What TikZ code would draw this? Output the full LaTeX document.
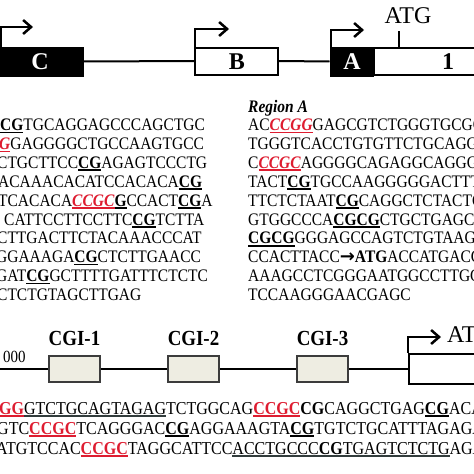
\documentclass[tikz,border=0pt]{standalone}
\usepackage{fontspec}
\setmainfont{Liberation Serif}
\newfontfamily\stretchserif{Liberation Serif}[FakeStretch=0.88]
\newfontfamily\arrowfont{DejaVu Sans}
\usetikzlibrary{arrows.meta}
\definecolor{seqred}{RGB}{222,28,48}
\definecolor{cgifill}{RGB}{238,237,226}
\definecolor{cgiedge}{RGB}{60,60,60}
\definecolor{ulgray}{RGB}{50,60,60}
\newsavebox\ulbox
\newcommand\ulx[2][black]{\sbox\ulbox{#2}\rlap{\color{#1}\rule[-2.6pt]{\wd\ulbox}{1.5pt}}\usebox\ulbox}
\newcommand\cgb{\ulx{\textbf{CG}}}
\newcommand\rd[1]{\ulx[seqred]{\textcolor{seqred}{\textbf{\textit{#1}}}}}
\newcommand\rdu[1]{\ulx[seqred]{\textcolor{seqred}{\textbf{#1}}}}
\newcommand\arr{{\arrowfont\bfseries\fontsize{18}{18}\selectfont →}}
\tikzset{
  x=1pt, y=-1pt,
  geneline/.style={line width=2pt},
  blackbox/.style={fill=black, draw=black, line width=1pt, inner sep=0pt},
  whitebox/.style={fill=white, draw=black, line width=2pt, inner sep=0pt},
  cgibox/.style={fill=cgifill, draw=cgiedge, line width=1.6pt, inner sep=0pt, minimum width=51pt, minimum height=26pt},
  prom/.style={line width=2.5pt, -{Straight Barb[length=8pt, width=14pt]}},
  glabel/.style={font=\fontsize{24}{26}\selectfont\bfseries, inner sep=0pt},
  cgilabel/.style={font=\stretchserif\fontsize{21.5}{24}\selectfont\bfseries, inner sep=0pt},
  seq/.style={anchor=base west, inner sep=0pt, font=\stretchserif\fontsize{17.6}{20}\selectfont},
  bseq/.style={anchor=base west, inner sep=0pt, font=\stretchserif\fontsize{18.2}{20}\selectfont},
}
\begin{document}
\begin{tikzpicture}
\path[use as bounding box] (0,0) rectangle (474,474);
\clip (0,0) rectangle (474,474);
\fill[white] (0,0) rectangle (474,474);
% ---------- gene structure ----------
\node[blackbox, minimum width=103pt, minimum height=29pt] (boxC) at (31.5,61.5) {};
\node[whitebox, minimum width=83pt, minimum height=27pt] (boxB) at (236.5,61) {};
\node[blackbox, minimum width=43pt, minimum height=29pt] (boxA) at (351.5,61.5) {};
\node[whitebox, minimum width=120pt, minimum height=27pt, anchor=west] (box1) at (373,61.5) {};
\draw[geneline] (boxC.east) -- (boxB.west);
\draw[geneline] (boxB.east) -- (boxA.west);
\node[glabel, text=white] (lC) at (40,62) {C};
\node[glabel] (lB) at (237,62) {B};
\node[glabel, text=white] (lA) at (352,62) {A};
\node[glabel] (l1) at (448,62) {1};
\coordinate (pC) at (1,47);   \coordinate (tC) at (33,27);
\coordinate (pB) at (195,47); \coordinate (tB) at (229,29);
\coordinate (pA) at (331,47); \coordinate (tA) at (364,30);
\draw[prom] (pC) |- (tC);
\draw[prom] (pB) |- (tB);
\draw[prom] (pA) |- (tA);
\coordinate (atgbase) at (399,47);
\coordinate (atgtop) at (399,31);
\draw[line width=2.5pt] (atgbase) -- (atgtop);
\node[font=\fontsize{24}{26}\selectfont, inner sep=0pt] (atg1) at (408,16) {ATG};
% ---------- left sequence ----------
\node[seq] (s1) at (0,130.5) {\cgb TGCAGGAGCCCAGCTGC};
\node[seq] (s2) at (-1,149.4) {\rd{G}GAGGGGCTGCCAAGTGCC};
\node[seq] (s3) at (-3,168.3) {CTGCTTCC\cgb AGAGTCCCTG};
\node[seq] (s4) at (-2,187.2) {ACAAACACATCCACACA\cgb};
\node[seq] (s5) at (-2,206.1) {TCACACA\rd{CCGC}\ulx{\textbf{G}}CCACT\cgb A};
\node[seq] (s6) at (4,225.0) {CATTCCTTCCTTC\cgb TCTTA};
\node[seq] (s7) at (-3,243.9) {CTTGACTTCTACAAACCCAT};
\node[seq] (s8) at (-4,262.8) {GGAAAGA\cgb CTCTTGAACC};
\node[seq] (s9) at (-4,281.7) {GAT\cgb GCTTTTGATTTCTCTC};
\node[seq] (s10) at (-3,300.6) {CTCTGTAGCTTGAG};
% ---------- right sequence ----------
\node[seq] (regA) at (248,112.5) {\textbf{\textit{Region A}}};
\node[seq] (r1) at (248,130.5) {AC\rd{CCGG}GAGCGTCTGGGTGCGG};
\node[seq] (r2) at (248,149.4) {TGGGTCACCTGTGTTCTGCAGG};
\node[seq] (r3) at (248,168.3) {C\rd{CCGC}AGGGGCAGAGGCAGGG};
\node[seq] (r4) at (248,187.2) {TACT\cgb TGCCAAGGGGGACTTT};
\node[seq] (r5) at (248,206.1) {TTCTCTAAT\cgb CAGGCTCTACTG};
\node[seq] (r6) at (248,225.0) {GTGGCCCA\ulx{\textbf{CGCG}}CTGCTGAGCG};
\node[seq] (r7) at (248,243.9) {\ulx{\textbf{CGCG}}GGGAGCCAGTCTGTAAGG};
\node[seq] (r8) at (248,262.8) {CCACTTACC\arr\textbf{ATG}ACCATGACC};
\node[seq] (r9) at (248,281.7) {AAAGCCTCGGGAATGGCCTTGG};
\node[seq] (r10) at (248,300.6) {TCCAAGGGAACGAGC};
% ---------- CpG islands ----------
\node[cgilabel] (c1l) at (74.5,338) {CGI-1};
\node[cgilabel] (c2l) at (193.5,338) {CGI-2};
\node[cgilabel] (c3l) at (322.5,338) {CGI-3};
\node[font=\stretchserif\fontsize{17}{18}\selectfont, anchor=west, inner sep=0pt] (k) at (3,357) {000};
\node[cgibox] (cgi1) at (74.5,369) {};
\node[cgibox] (cgi2) at (193.5,369) {};
\node[cgibox] (cgi3) at (322.5,369) {};
\node[whitebox, minimum width=90pt, minimum height=30pt, anchor=west] (big) at (408,369) {};
\coordinate (L0) at (-5,369);
\draw[line width=2.5pt] (L0) -- (cgi1.west);
\draw[line width=2.5pt] (cgi1.east) -- (cgi2.west);
\draw[line width=2.5pt] (cgi2.east) -- (cgi3.west);
\draw[line width=2.5pt] (cgi3.east) -- (big.west);
\coordinate (tB2) at (441,337);
\draw[prom] (big.north west) |- (tB2);
\node[font=\fontsize{24}{26}\selectfont, anchor=west, inner sep=0pt] (atg2) at (447,335) {ATG};
% ---------- bottom sequence ----------
\node[bseq] (b1) at (-1,414) {\rdu{GG}\ulx[ulgray]{GTCTGCAGTAGAG}TCTGGCAG\rdu{CCGC}\textbf{CG}CAGGCTGAG\cgb ACAG};
\node[bseq] (b2) at (-3,434) {GTC\rdu{CCGC}TCAGGGAC\cgb AGGAAAGTA\cgb TGTCTGCATTTAGAGA};
\node[bseq] (b3) at (-4,454) {ATGTCCAC\rdu{CCGC}TAGGCATTCC\ulx[ulgray]{ACCTGCCC\textbf{CG}TGAGTCTCTG}AGAG};
\end{tikzpicture}
\end{document}
